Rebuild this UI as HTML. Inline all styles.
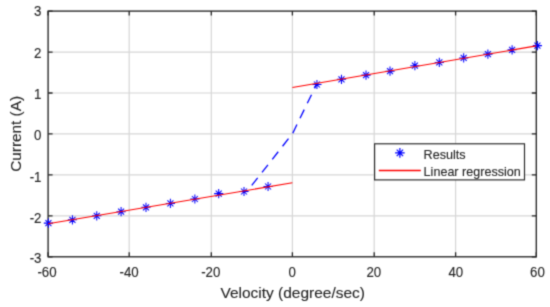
<!DOCTYPE html>
<html><head><meta charset="utf-8"><style>
html,body{margin:0;padding:0;background:#fff;width:550px;height:307px;overflow:hidden}
svg{display:block;}
text{font-family:"Liberation Sans",Arial,Helvetica,sans-serif;fill:#262626;stroke:#262626;stroke-width:0.12px}
</style></head><body>
<svg width="550" height="307" viewBox="0 0 550 307">
<defs><filter id="b" x="0" y="0" width="1" height="1" color-interpolation-filters="sRGB"><feConvolveMatrix order="3" kernelMatrix="0.0277 0.1110 0.0277 0.1110 0.4452 0.1110 0.0277 0.1110 0.0277" edgeMode="duplicate" preserveAlpha="true"/></filter></defs>
<rect width="550" height="307" fill="#fff"/>
<g filter="url(#b)">
<rect width="550" height="307" fill="#fff"/>
<path d="M129.20 11.10V256.80M211.30 11.10V256.80M292.40 11.10V256.80M374.20 11.10V256.80M455.60 11.10V256.80M48.10 215.85H536.30M48.10 174.90H536.30M48.10 133.95H536.30M48.10 93.00H536.30M48.10 52.05H536.30" stroke="#262626" stroke-opacity="0.19" stroke-width="1.2" fill="none"/>
<path d="M48.10 256.80v-4.5M48.10 11.10v4.5M129.20 256.80v-4.5M129.20 11.10v4.5M211.30 256.80v-4.5M211.30 11.10v4.5M292.40 256.80v-4.5M292.40 11.10v4.5M374.20 256.80v-4.5M374.20 11.10v4.5M455.60 256.80v-4.5M455.60 11.10v4.5M536.30 256.80v-4.5M536.30 11.10v4.5M48.10 256.80h4.5M536.30 256.80h-4.5M48.10 215.85h4.5M536.30 215.85h-4.5M48.10 174.90h4.5M536.30 174.90h-4.5M48.10 133.95h4.5M536.30 133.95h-4.5M48.10 93.00h4.5M536.30 93.00h-4.5M48.10 52.05h4.5M536.30 52.05h-4.5M48.10 11.10h4.5M536.30 11.10h-4.5" stroke="#262626" stroke-width="1.3" fill="none"/>
<rect x="48.10" y="11.10" width="488.20" height="245.70" stroke="#262626" stroke-width="1.35" fill="none"/>
<path d="M246.60 191.90L292.60 133.50L316.40 84.60" stroke="#0000ff" stroke-width="1.3" fill="none" stroke-dasharray="9.6 7" stroke-dashoffset="8.3"/>
<path d="M43.80 223.10H53.00M48.40 218.50V227.70M45.40 220.10L51.40 226.10M45.40 226.10L51.40 220.10M67.83 219.80H77.03M72.43 215.20V224.40M69.43 216.80L75.43 222.80M69.43 222.80L75.43 216.80M92.16 215.80H101.36M96.76 211.20V220.40M93.76 212.80L99.76 218.80M93.76 218.80L99.76 212.80M116.49 211.70H125.69M121.09 207.10V216.30M118.09 208.70L124.09 214.70M118.09 214.70L124.09 208.70M141.40 207.30H150.60M146.00 202.70V211.90M143.00 204.30L149.00 210.30M143.00 210.30L149.00 204.30M165.80 203.40H175.00M170.40 198.80V208.00M167.40 200.40L173.40 206.40M167.40 206.40L173.40 200.40M190.28 199.00H199.48M194.88 194.40V203.60M191.88 196.00L197.88 202.00M191.88 202.00L197.88 196.00M214.10 193.60H223.30M218.70 189.00V198.20M215.70 190.60L221.70 196.60M215.70 196.60L221.70 190.60M239.40 191.50H248.60M244.00 186.90V196.10M241.00 188.50L247.00 194.50M241.00 194.50L247.00 188.50M263.47 186.50H272.67M268.07 181.90V191.10M265.07 183.50L271.07 189.50M265.07 189.50L271.07 183.50M312.34 84.50H321.54M316.94 79.90V89.10M313.94 81.50L319.94 87.50M313.94 87.50L319.94 81.50M336.88 79.30H346.08M341.48 74.70V83.90M338.48 76.30L344.48 82.30M338.48 82.30L344.48 76.30M361.42 75.10H370.62M366.02 70.50V79.70M363.02 72.10L369.02 78.10M363.02 78.10L369.02 72.10M385.40 71.20H394.60M390.00 66.60V75.80M387.00 68.20L393.00 74.20M387.00 74.20L393.00 68.20M410.30 65.70H419.50M414.90 61.10V70.30M411.90 62.70L417.90 68.70M411.90 68.70L417.90 62.70M434.72 62.40H443.92M439.32 57.80V67.00M436.32 59.40L442.32 65.40M436.32 65.40L442.32 59.40M459.07 57.90H468.27M463.67 53.30V62.50M460.67 54.90L466.67 60.90M460.67 60.90L466.67 54.90M483.30 54.10H492.50M487.90 49.50V58.70M484.90 51.10L490.90 57.10M484.90 57.10L490.90 51.10M507.50 49.80H516.70M512.10 45.20V54.40M509.10 46.80L515.10 52.80M509.10 52.80L515.10 46.80M532.80 45.60H542.00M537.40 41.00V50.20M534.40 42.60L540.40 48.60M534.40 48.60L540.40 42.60" stroke="#0000ff" stroke-width="1.05" fill="none"/>
<path d="M48.10 223.7L292.40 182.8M292.40 87.5L536.30 45.9" stroke="#ff0000" stroke-width="1.15" fill="none"/>
<text x="47.00" y="277.0" font-size="13.8" text-anchor="middle" textLength="19.22" lengthAdjust="spacingAndGlyphs">-60</text>
<text x="129.10" y="277.0" font-size="13.8" text-anchor="middle" textLength="19.22" lengthAdjust="spacingAndGlyphs">-40</text>
<text x="210.80" y="277.0" font-size="13.8" text-anchor="middle" textLength="19.22" lengthAdjust="spacingAndGlyphs">-20</text>
<text x="292.20" y="277.0" font-size="13.8" text-anchor="middle" textLength="7.40" lengthAdjust="spacingAndGlyphs">0</text>
<text x="373.85" y="277.0" font-size="13.8" text-anchor="middle" textLength="14.79" lengthAdjust="spacingAndGlyphs">20</text>
<text x="455.80" y="277.0" font-size="13.8" text-anchor="middle" textLength="14.79" lengthAdjust="spacingAndGlyphs">40</text>
<text x="537.40" y="277.0" font-size="13.8" text-anchor="middle" textLength="14.79" lengthAdjust="spacingAndGlyphs">60</text>
<text x="41.5" y="263.00" font-size="13.8" text-anchor="end" textLength="11.83" lengthAdjust="spacingAndGlyphs">-3</text>
<text x="41.5" y="222.70" font-size="13.8" text-anchor="end" textLength="11.83" lengthAdjust="spacingAndGlyphs">-2</text>
<text x="41.5" y="181.50" font-size="13.8" text-anchor="end" textLength="11.83" lengthAdjust="spacingAndGlyphs">-1</text>
<text x="41.5" y="139.70" font-size="13.8" text-anchor="end" textLength="7.40" lengthAdjust="spacingAndGlyphs">0</text>
<text x="41.5" y="98.90" font-size="13.8" text-anchor="end" textLength="7.40" lengthAdjust="spacingAndGlyphs">1</text>
<text x="41.5" y="57.90" font-size="13.8" text-anchor="end" textLength="7.40" lengthAdjust="spacingAndGlyphs">2</text>
<text x="41.5" y="16.40" font-size="13.8" text-anchor="end" textLength="7.40" lengthAdjust="spacingAndGlyphs">3</text>
<text x="292.7" y="297.5" font-size="15.1" text-anchor="middle" textLength="144.4" lengthAdjust="spacingAndGlyphs">Velocity (degree/sec)</text>
<text transform="translate(20.6 133.85) rotate(-90)" x="0" y="0" font-size="15.3" text-anchor="middle" textLength="75.8" lengthAdjust="spacingAndGlyphs">Current (A)</text>
<rect x="374.6" y="143.8" width="149.9" height="36.1" fill="#fff" stroke="#262626" stroke-width="1.15"/>
<path d="M395.10 152.90H404.70M399.90 148.10V157.70M396.70 149.70L403.10 156.10M396.70 156.10L403.10 149.70" stroke="#0000ff" stroke-width="1.2" fill="none"/>
<path d="M378.8 170.6H420.8" stroke="#ff0000" stroke-width="1.5"/>
<text x="423.6" y="158.8" font-size="12.2" textLength="42.0" lengthAdjust="spacingAndGlyphs">Results</text>
<text x="423.6" y="175.6" font-size="12.2" textLength="97.2" lengthAdjust="spacingAndGlyphs">Linear regression</text>
</g></svg></body></html>
